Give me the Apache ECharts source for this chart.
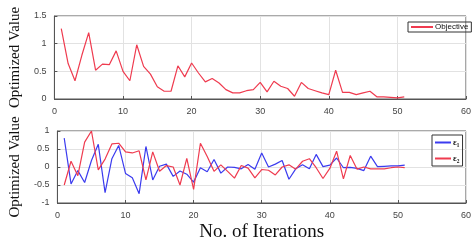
<!DOCTYPE html>
<html>
<head>
<meta charset="utf-8">
<script src="https://cdn.jsdelivr.net/npm/echarts@6/dist/echarts.min.js"></script>
<style>
html, body { margin: 0; padding: 0; background: #fff; }
#main { width: 474px; height: 243px; }
</style>
</head>
<body>
<div id="main"></div>
<script>
// iterations 1..51
var objective = [1.27, 0.64, 0.33, 0.79, 1.2, 0.52, 0.63, 0.62, 0.87, 0.5,
	0.33, 0.98, 0.59, 0.45, 0.22, 0.14, 0.14, 0.6, 0.4, 0.65,
	0.47, 0.31, 0.37, 0.29, 0.17, 0.11, 0.11, 0.15, 0.17, 0.3,
	0.13, 0.32, 0.23, 0.19, 0.05, 0.3, 0.19, 0.15, 0.11, 0.08,
	0.52, 0.12, 0.12, 0.08, 0.11, 0.14, 0.04, 0.04, 0.03, 0.02, 0.04];

var eps1 = [0.8, -0.47, -0.1, -0.43, 0.18, 0.63, -0.71, 0.23, 0.6, -0.18,
	-0.3, -0.74, 0.57, -0.36, 0.02, 0.08, -0.26, -0.11, -0.2, -0.42,
	-0.02, -0.13, 0.21, -0.17, 0, -0.01, -0.05, 0.07, -0.06, 0.39,
	0, 0.08, 0.18, -0.34, -0.05, 0.06, -0.05, 0.35, 0.01, 0.05,
	0.25, -0.02, -0.01, -0.04, -0.1, 0.3, 0.01, 0.02, 0.03, 0.03, 0.05];

var eps2 = [-0.5, 0.16, -0.24, 0.69, 1.0, -0.08, 0.22, 0.64, 0.66, 0.42,
	0.39, 0.45, -0.36, 0.42, -0.12, 0.04, 0, -0.5, 0.24, -0.62,
	0.66, 0.29, -0.12, 0.06, -0.12, -0.31, 0.04, -0.03, -0.3, -0.07,
	-0.09, -0.22, 0, 0.06, -0.06, 0.16, 0.23, -0.02, -0.32, -0.04,
	0.44, -0.33, 0.32, -0.06, 0, -0.05, -0.05, -0.05, -0.02, 0, -0.02];

function toPairs(arr) {
	var out = [];
	for (var i = 0; i < arr.length; i++) {
		out.push([i + 1, arr[i]]);
	}
	return out;
}

var labelStyle = { fontFamily: 'Liberation Sans', fontSize: 9, color: '#444' };
var nameStyle = { fontFamily: 'Liberation Serif', fontSize: 15, color: '#111' };
var splitStyle = { show: true, lineStyle: { color: '#e2e2e2', width: 1 } };

function xAxisOpt(idx, name) {
	return {
		type: 'value', gridIndex: idx, min: 0, max: 60, interval: 10,
		axisLine: { onZero: false, lineStyle: { color: '#555' } },
		axisTick: { inside: true, length: 3, lineStyle: { color: '#555' } },
		axisLabel: labelStyle,
		splitLine: splitStyle,
		name: name || '',
		nameLocation: 'middle',
		nameGap: 20,
		nameTextStyle: { fontFamily: 'Liberation Serif', fontSize: 19, color: '#111' }
	};
}

function yAxisOpt(idx, min, max, interval) {
	return {
		type: 'value', gridIndex: idx, min: min, max: max, interval: interval,
		axisLine: { show: true, onZero: false, lineStyle: { color: '#555' } },
		axisTick: { show: true, inside: true, length: 3, lineStyle: { color: '#555' } },
		axisLabel: labelStyle,
		splitLine: splitStyle,
		name: 'Optimized Value',
		nameLocation: 'middle',
		nameGap: 25,
		nameTextStyle: nameStyle
	};
}

var option = {
	animation: false,
	backgroundColor: '#fff',
	grid: [
		{ left: 37, right: 8, top: 16, height: 83, show: true, borderColor: '#555', borderWidth: 1 },
		{ left: 37, right: 8, top: 131, height: 83, show: true, borderColor: '#555', borderWidth: 1 }
	],
	xAxis: [xAxisOpt(0), xAxisOpt(1, 'No. of Iterations')],
	yAxis: [yAxisOpt(0, 0, 1.5, 0.5), yAxisOpt(1, -1, 1, 0.5)],
	legend: [
		{
			data: ['Objective'],
			left: 408, top: 22,
			padding: [1, 3, 1, 3],
			borderColor: '#333', borderWidth: 1,
			itemWidth: 22, itemHeight: 2, itemGap: 2,
			icon: 'rect',
			textStyle: { fontFamily: 'Liberation Sans', fontSize: 8, color: '#111', padding: [0, 0, 0, -3] }
		},
		{
			data: ['ε\u2081', 'ε\u2082'],
			left: 432, top: 135,
			orient: 'vertical',
			padding: [3, 3, 3, 3],
			borderColor: '#333', borderWidth: 1,
			itemWidth: 16, itemHeight: 2, itemGap: 7,
			icon: 'rect',
			textStyle: { fontFamily: 'Liberation Serif', fontSize: 9, fontWeight: 'bold', color: '#111', padding: [0, 0, 0, -3] }
		}
	],
	series: [
		{
			name: 'Objective', type: 'line', xAxisIndex: 0, yAxisIndex: 0,
			data: toPairs(objective), showSymbol: false,
			lineStyle: { color: '#ef3b4f', width: 1.2 }, itemStyle: { color: '#ef3b4f' }
		},
		{
			name: 'ε\u2081', type: 'line', xAxisIndex: 1, yAxisIndex: 1,
			data: toPairs(eps1), showSymbol: false,
			lineStyle: { color: '#3b3bef', width: 1.2 }, itemStyle: { color: '#3b3bef' }
		},
		{
			name: 'ε\u2082', type: 'line', xAxisIndex: 1, yAxisIndex: 1,
			data: toPairs(eps2), showSymbol: false,
			lineStyle: { color: '#ef3b4f', width: 1.2 }, itemStyle: { color: '#ef3b4f' }
		}
	]
};

var myChart = echarts.init(document.getElementById('main'), null, { renderer: 'canvas' });
myChart.setOption(option, true);
</script>
</body>
</html>
